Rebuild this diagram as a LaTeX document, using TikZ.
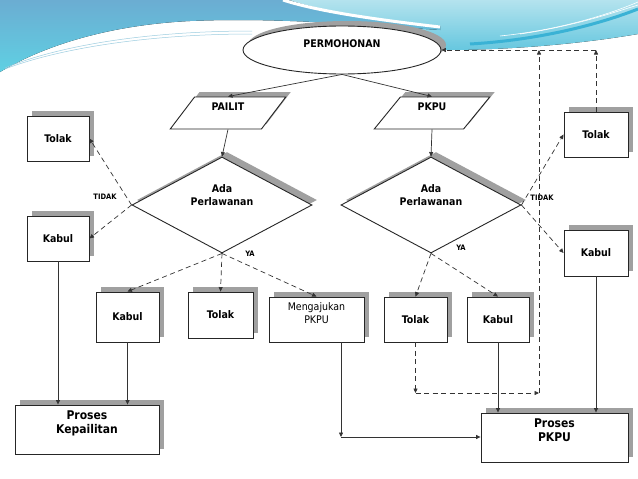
\documentclass[tikz,border=0pt]{standalone}
\usepackage{fontspec}
\setmainfont{DejaVu Sans Condensed}
\usepackage{tikz}
\usetikzlibrary{arrows.meta,positioning,shapes.geometric,shadows}
\usepackage{xcolor}
\definecolor{SteelSky}{HTML}{6BADD2}
\definecolor{CyanSky}{HTML}{5FD0E3}
\definecolor{PaleSky}{HTML}{B4E3EE}
\definecolor{MidSky}{HTML}{66C7DF}
\definecolor{DeepSky}{HTML}{3AB2D5}
\definecolor{LineSky}{HTML}{9CCDE0}
\definecolor{ShadowGray}{HTML}{A0A0A0}

\begin{document}
\begin{tikzpicture}[x=1pt,y=-1pt,
    font=\bfseries\fontsize{10.5}{13}\selectfont,
    lifted/.style={general shadow={fill=ShadowGray,shadow xshift=5pt,shadow yshift=5pt}},
    base/.style={draw=black!85,line width=0.9pt,fill=white,lifted,inner sep=0pt,align=center},
    box/.style={base,rectangle},
    ask/.style={base,diamond,aspect=2,minimum width=180,minimum height=96},
    kind/.style={base,trapezium,trapezium left angle=60,trapezium right angle=120,
      trapezium stretches=true,minimum width=116,minimum height=32},
    link/.style={-{Triangle[length=4.5pt,width=4pt]},line width=0.7pt,draw=black!80},
    dlink/.style={link,dash pattern=on 5pt off 3.5pt},
    tag/.style={font=\bfseries\fontsize{7.5}{9}\selectfont,inner sep=1pt}]
  \useasboundingbox (0,0) rectangle (638,479);
  \fill[white] (0,0) rectangle (638,479);

  % header swoosh
  \fill[top color=PaleSky,bottom color=MidSky] (290,0) -- (638,0) -- (638,34)
    .. controls (580,44) and (510,50) .. (445,50)
    .. controls (400,45) and (340,25) .. (290,0);
  \draw[DeepSky,line width=3pt] (470,44) .. controls (540,40) and (600,24) .. (638,9);
  \draw[white,line width=0.6pt] (500,36) .. controls (560,30) and (610,14) .. (638,2);
  \draw[white,line width=0.6pt] (520,34) .. controls (575,26) and (615,12) .. (638,5);
  \fill[top color=SteelSky,bottom color=CyanSky] (0,0) -- (288,0)
    .. controls (325,12) and (380,20) .. (440,26) -- (440,30)
    .. controls (330,22) and (260,18) .. (190,21)
    .. controls (110,25) and (45,45) .. (0,72) -- cycle;
  \draw[white,line width=3pt] (283,0) .. controls (320,12) and (380,20) .. (440,27);
  \draw[LineSky,line width=0.5pt] (5,68) .. controls (60,45) and (150,31) .. (252,31);
  \draw[LineSky,line width=0.5pt] (5,69) .. controls (60,48) and (150,34) .. (252,34);

  % shapes
  \node[base,ellipse,minimum width=198,minimum height=48] (perm) at (342,50) {PERMOHONAN\\\mbox{}};
  \node[kind] (pailit) at (228,113) {PAILIT\\\mbox{}};
  \node[kind] (pkpu) at (432,113) {PKPU\\\mbox{}};
  \node[ask] (adaA) at (222,205) {Ada\\Perlawanan\\[6pt]\mbox{}};
  \node[ask] (adaB) at (431,205) {Ada\\Perlawanan\\[6pt]\mbox{}};

  \foreach \nm/\cx/\cy/\w/\h/\txt in {
      tolakA/58/138.5/62/45/Tolak,
      kabulA/58/238.5/62/45/Kabul,
      tolakB/596/134.5/64/45/Tolak,
      kabulB/596/253/64/46/Kabul,
      kabulC/127.5/317/63/50/Kabul,
      tolakC/220.5/315/65/46/Tolak,
      tolakD/415.5/319.5/63/45/Tolak,
      kabulD/498/319.5/62/45/Kabul}{
    \node[box,minimum width=\w,minimum height=\h] (\nm) at (\cx,\cy) {\txt};
  }
  \node[box,minimum width=95,minimum height=45,font=\mdseries\fontsize{10.5}{13}\selectfont]
    (meng) at (316.5,319.5) {Mengajukan\\PKPU\\\mbox{}};
  \node[box,minimum width=144,minimum height=49,font=\bfseries\fontsize{12}{14}\selectfont]
    (prosesA) at (87,429.5) {Proses\\Kepailitan\\\mbox{}};
  \node[box,minimum width=147,minimum height=49,font=\bfseries\fontsize{12}{14}\selectfont]
    (prosesB) at (554.5,437.5) {Proses\\PKPU\\\mbox{}};

  \node[tag] (noA) at (105,197) {TIDAK};
  \node[tag] (noB) at (542,198) {TIDAK};
  \node[tag] (yesA) at (250,254) {YA};
  \node[tag] (yesB) at (461,248) {YA};

  \coordinate (c1) at (415.5,393);
  \coordinate (c2) at (539,393);
  \coordinate (c3) at (539,50);
  \coordinate (c4) at (596,50);
  \coordinate (c5) at (341,437);

  % connectors
  \draw[link] (perm.south) -- (pailit.north);
  \draw[link] (perm.south) -- (pkpu.north);
  \draw[link] (pailit.south) -- (adaA.north);
  \draw[link] (pkpu.south) -- (adaB.north);
  \draw[dlink] (adaA.west) -- (tolakA.east);
  \draw[dlink] (adaA.west) -- (kabulA.east);
  \draw[dlink] (adaB.east) -- (tolakB.west);
  \draw[dlink] (adaB.east) -- (kabulB.west);
  \foreach \t in {kabulC,tolakC,meng}
    \draw[dlink] (adaA.south) -- (\t.north);
  \foreach \t in {tolakD,kabulD}
    \draw[dlink] (adaB.south) -- (\t.north);
  \draw[dlink] (tolakD.south) -- (c1);
  \draw[dlink] (c1) -- (c2);
  \draw[dlink] (c2) -- (c3);
  \draw[dlink] (tolakB.north) -- (c4);
  \draw[dlink] (c4) -- (perm.east);
  \draw[link] (kabulA.south) -- (kabulA.south |- prosesA.north);
  \draw[link] (kabulC.south) -- (kabulC.south |- prosesA.north);
  \draw[link] (kabulD.south) -- (kabulD.south |- prosesB.north);
  \draw[link] (kabulB.south) -- (kabulB.south |- prosesB.north);
  \draw[link] (meng.south -| c5) -- (c5);
  \draw[link] (c5) -- (c5 -| prosesB.west);
\end{tikzpicture}
\end{document}
